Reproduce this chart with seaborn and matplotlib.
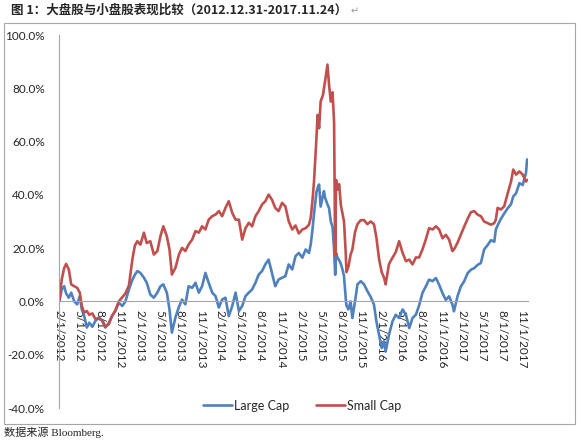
import matplotlib
matplotlib.use("Agg")
import matplotlib.pyplot as plt
from matplotlib.patches import Rectangle
from matplotlib.ticker import FuncFormatter
import seaborn as sns
import pandas as pd

# values (cumulative return, %)
dates = [
    "2012-02-01", "2012-02-12", "2012-02-23", "2012-03-03", "2012-03-15", "2012-03-26",
    "2012-04-09", "2012-04-22", "2012-05-04", "2012-05-13", "2012-05-24", "2012-06-05",
    "2012-06-16", "2012-06-30", "2012-07-13", "2012-07-29", "2012-08-14", "2012-08-28",
    "2012-09-13", "2012-09-27", "2012-10-12", "2012-10-28", "2012-11-13", "2012-11-27",
    "2012-12-13", "2012-12-29", "2013-01-09", "2013-01-20", "2013-02-03", "2013-02-19",
    "2013-03-04", "2013-03-20", "2013-04-05", "2013-04-21", "2013-05-05", "2013-05-18",
    "2013-06-03", "2013-06-15", "2013-06-26", "2013-07-12", "2013-07-28",
    "2013-08-11", "2013-08-26", "2013-09-10", "2013-09-26", "2013-10-11", "2013-10-26",
    "2013-11-10", "2013-11-25", "2013-12-10", "2013-12-26", "2014-01-10", "2014-01-25",
    "2014-02-09", "2014-02-24", "2014-03-11", "2014-03-27", "2014-04-11", "2014-04-26",
    "2014-05-11", "2014-05-26", "2014-06-10", "2014-06-25", "2014-07-10", "2014-07-25",
    "2014-08-09", "2014-08-24", "2014-09-08", "2014-09-23", "2014-10-08", "2014-10-23",
    "2014-11-08", "2014-11-23", "2014-12-08", "2014-12-24", "2015-01-08", "2015-01-23",
    "2015-02-08", "2015-02-23", "2015-03-10", "2015-03-18", "2015-03-26", "2015-04-02",
    "2015-04-13", "2015-04-18", "2015-04-25", "2015-05-02", "2015-05-13", "2015-05-17",
    "2015-05-22", "2015-06-02", "2015-06-09", "2015-06-17", "2015-06-25", "2015-07-02",
    "2015-07-07", "2015-07-11", "2015-07-17", "2015-07-25", "2015-08-02", "2015-08-09",
    "2015-08-16", "2015-08-24", "2015-08-27", "2015-09-05", "2015-09-15", "2015-09-23",
    "2015-10-05", "2015-10-16", "2015-10-31", "2015-11-15", "2015-11-30", "2015-12-15",
    "2015-12-30", "2016-01-10", "2016-01-22", "2016-02-03", "2016-02-14", "2016-02-21",
    "2016-03-07", "2016-03-23", "2016-04-07", "2016-04-22", "2016-05-08", "2016-05-23",
    "2016-06-07", "2016-06-22", "2016-07-07",
    "2016-07-22", "2016-08-06", "2016-08-21", "2016-09-05", "2016-09-21", "2016-10-06",
    "2016-10-21", "2016-11-05", "2016-11-20", "2016-12-05", "2016-12-20", "2016-12-27",
    "2017-01-12", "2017-01-27", "2017-02-11", "2017-02-27", "2017-03-14", "2017-03-29",
    "2017-04-13", "2017-04-28", "2017-05-13", "2017-05-29", "2017-06-13", "2017-06-28",
    "2017-07-05", "2017-07-13", "2017-07-28", "2017-08-12", "2017-08-28", "2017-09-12",
    "2017-09-22", "2017-10-05", "2017-10-20", "2017-11-04", "2017-11-19", "2017-11-24",
]

large_cap = [
    0.0, 4.5, 5.7, 3.0, 1.4, 3.3,
    0.0, -1.1, 2.0, -3.0, -5.5, -9.8,
    -8.0, -9.5, -7.4, -6.0, -7.4, -9.8,
    -8.0, -5.5, -3.6, -0.5, -1.7, 0.0,
    4.5, 8.2, 10.0, 11.4, 10.7, 8.9,
    7.0, 2.6, 1.4, 3.3, 5.7, 6.4,
    3.3, -3.0, -11.7, -6.0, -2.0,
    0.7, -1.1, 5.7, 5.1, 7.0, 3.3,
    5.7, 10.7, 7.0, 3.3, 2.0, -2.3,
    0.7, 1.4, -5.5, -1.7, 3.3, -3.6,
    -1.7, 2.0, 3.3, 4.5, 7.0, 10.1,
    11.4, 13.9, 15.7, 10.7, 5.7, 8.2,
    8.9, 9.5, 13.9, 12.0, 17.0, 18.2,
    16.4, 19.5, 18.2, 21.4, 27.0, 33.0,
    41.0, 42.6, 43.9, 35.6, 40.0, 41.4,
    39.0, 36.4, 35.1, 30.0, 28.0, 19.5,
    10.0, 18.2, 16.5, 15.5, 14.0, 12.0,
    9.5, 1.0, -1.5, -3.0, 0.0, -6.2,
    0.0, 6.4, 7.6, 6.4, 3.9, 1.7,
    -1.2, -7.5, -12.5, -17.5, -15.0, -18.8,
    -12.5, -7.5, -5.0, -6.2, -3.0, -5.0,
    -10.0, -6.2, -5.0,
    -1.5, 3.2, 5.6, 8.2, 7.6, 8.8,
    6.2, 3.1, 0.6, 1.9, -1.2, -3.7,
    1.9, 5.6, 7.5, 10.6, 11.9, 12.5,
    13.7, 14.4, 19.5, 21.2, 23.0, 22.4,
    27.0, 28.5, 31.0, 33.0, 35.0, 36.5,
    39.4, 40.6, 44.4, 43.7, 48.3, 53.3,
]

small_cap = [
    0.0, 8.2, 12.5, 14.1, 12.0, 6.4,
    5.7, 5.1, 3.3, -1.7, -4.2, -3.6,
    -5.0, -4.5, -6.5, -6.5, -7.0, -9.5,
    -8.5, -5.5, -3.5, 0.0, 1.6, 3.0,
    6.0, 16.0, 21.0, 22.6, 21.3, 25.8,
    21.9, 22.6, 17.6, 18.9, 24.5, 28.2,
    24.5, 19.5, 10.1, 12.6, 17.6,
    20.1, 18.9, 21.4, 23.2, 26.4, 25.8,
    28.2, 27.0, 30.7, 32.0, 32.6, 33.9,
    32.0, 35.1, 37.6, 33.2, 30.7, 30.7,
    23.2, 27.5, 29.5, 28.2, 32.0, 33.9,
    36.4, 37.6, 40.1, 38.2, 35.1, 33.9,
    37.0, 35.7, 30.1, 27.0, 28.5, 25.5,
    27.0, 27.5, 28.8, 31.4, 38.0, 45.1,
    61.4, 70.0, 65.0, 75.0, 77.6, 80.0,
    82.6, 88.9, 81.4, 75.0, 78.5, 67.3,
    17.0, 45.6, 42.0, 44.0, 36.0, 33.0,
    30.0, 18.0, 11.0, 13.0, 17.6, 19.5,
    26.0, 29.0, 30.5, 30.5, 29.0, 30.0,
    29.0, 24.0, 16.0, 11.0, 8.8, 6.4,
    14.0, 16.4, 18.5, 22.6, 18.2, 15.1,
    15.7, 13.9, 16.5,
    16.5, 19.5, 23.2, 27.5, 27.0, 28.2,
    27.0, 23.7, 25.0, 23.2, 18.9, 19.5,
    22.0, 25.0, 28.0, 31.0, 33.5, 33.9,
    32.6, 32.0, 30.0, 29.4, 28.8, 29.4,
    30.7, 35.1, 34.5, 35.7, 40.6, 45.0,
    49.5, 47.6, 48.8, 47.6, 45.0, 45.6,
]

series_names = ["Large Cap", "Small Cap"]
series_colors = ["#4F81BD", "#C0504D"]
tick_dates = pd.date_range("2012-02-01", "2017-11-01", freq="3MS")
tick_labels = [f"{d.month}/{d.day}/{d.year}" for d in tick_dates]
y_ticks = [-40, -20, 0, 20, 40, 60, 80, 100]

title = "图 1：大盘股与小盘股表现比较（2012.12.31-2017.11.24）"
source = "数据来源 Bloomberg."

sns.set_style("white")
plt.rcParams["font.family"] = ["Lato", "DejaVu Sans"]

df = pd.DataFrame({"date": pd.to_datetime(dates),
                   series_names[0]: large_cap,
                   series_names[1]: small_cap})
long_df = df.melt(id_vars="date", var_name="series", value_name="ret")

fig = plt.figure(figsize=(5.81, 4.40), dpi=100)
W, H = 581, 440
ax = fig.add_axes([59.3 / W, 32 / H, (528 - 59.3) / W, 373 / H])

sns.lineplot(data=long_df, x="date", y="ret", hue="series", hue_order=series_names,
             palette=series_colors, linewidth=1.9, estimator=None, ax=ax)

axis_grey = "#A6A6A6"
for s in ["top", "right"]:
    ax.spines[s].set_visible(False)
ax.spines["left"].set_color(axis_grey)
ax.spines["bottom"].set_color(axis_grey)
# x axis crosses at 0% (set before tick labels: this resets the ticks)
ax.spines["bottom"].set_position(("data", 0))

ax.set_xlim(pd.Timestamp("2012-02-01"), pd.Timestamp("2017-11-28"))
ax.set_ylim(-40, 100)
ax.set_yticks(y_ticks)
ax.yaxis.set_major_formatter(FuncFormatter(lambda v, p: f"{v:.1f}%"))
ax.set_xticks(tick_dates)
ax.set_xticklabels(tick_labels)
ax.set_xlabel("")
ax.set_ylabel("")

ax.tick_params(axis="both", direction="out", length=4, width=0.8, color=axis_grey,
               labelsize=8.5, labelcolor="#262626")
ax.tick_params(axis="y", pad=6.5)
ax.tick_params(axis="x", pad=2.2, labelrotation=270)
for lbl in ax.get_xticklabels():
    lbl.set_ha("center")
    lbl.set_va("top")

sns.move_legend(ax, "center", bbox_to_anchor=(0.518, 0.006), ncol=2, title=None,
                frameon=False, fontsize=9, handlelength=2.3, handletextpad=0.15,
                columnspacing=2.2)

# chart frame, title and source line
fig.add_artist(Rectangle((4 / W, 1 - 424 / H), 571 / W, 401 / H, transform=fig.transFigure,
                         fill=False, edgecolor=axis_grey, linewidth=0.8))
t = fig.text(11 / W, 1 - 10 / H, title, fontsize=9, fontweight="bold",
             family=["Noto Sans CJK SC", "DejaVu Sans"], ha="left", va="center")
fig.canvas.draw()
bb = t.get_window_extent()
fig.text((bb.x1 + 3) / W, 1 - 11 / H, "↵", fontsize=7, color="#999999",
         family=["DejaVu Sans"], ha="left", va="center")
fig.text(4 / W, 1 - 432 / H, source, fontsize=8,
         family=["Liberation Serif", "Noto Sans CJK SC"], ha="left", va="center")

fig.savefig("out.png", dpi=100)
